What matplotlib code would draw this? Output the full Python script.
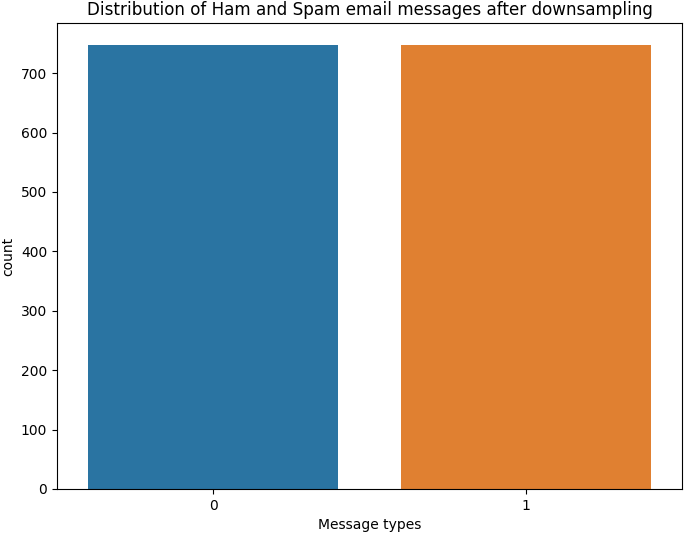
import matplotlib
matplotlib.use("Agg")
import matplotlib.pyplot as plt

# counts per message type after downsampling
categories = ["0", "1"]
counts = [747, 747]
colors = ["#2a74a2", "#e08031"]

fig = plt.figure(figsize=(6.85, 5.34), dpi=100)
ax = fig.add_axes([57 / 685, 1 - 489 / 534, 625 / 685, 466 / 534])

ax.bar(range(len(categories)), counts, width=0.8, color=colors)
ax.set_xticks(range(len(categories)))
ax.set_xticklabels(categories)
ax.set_xlim(-0.5, len(categories) - 0.5)
ax.set_ylim(0, max(counts) * 1.05)
ax.set_xlabel("Message types")
ax.set_ylabel("count")
ax.set_title("Distribution of Ham and Spam email messages after downsampling", fontsize=12.1)

fig.savefig("out.png", dpi=100)
